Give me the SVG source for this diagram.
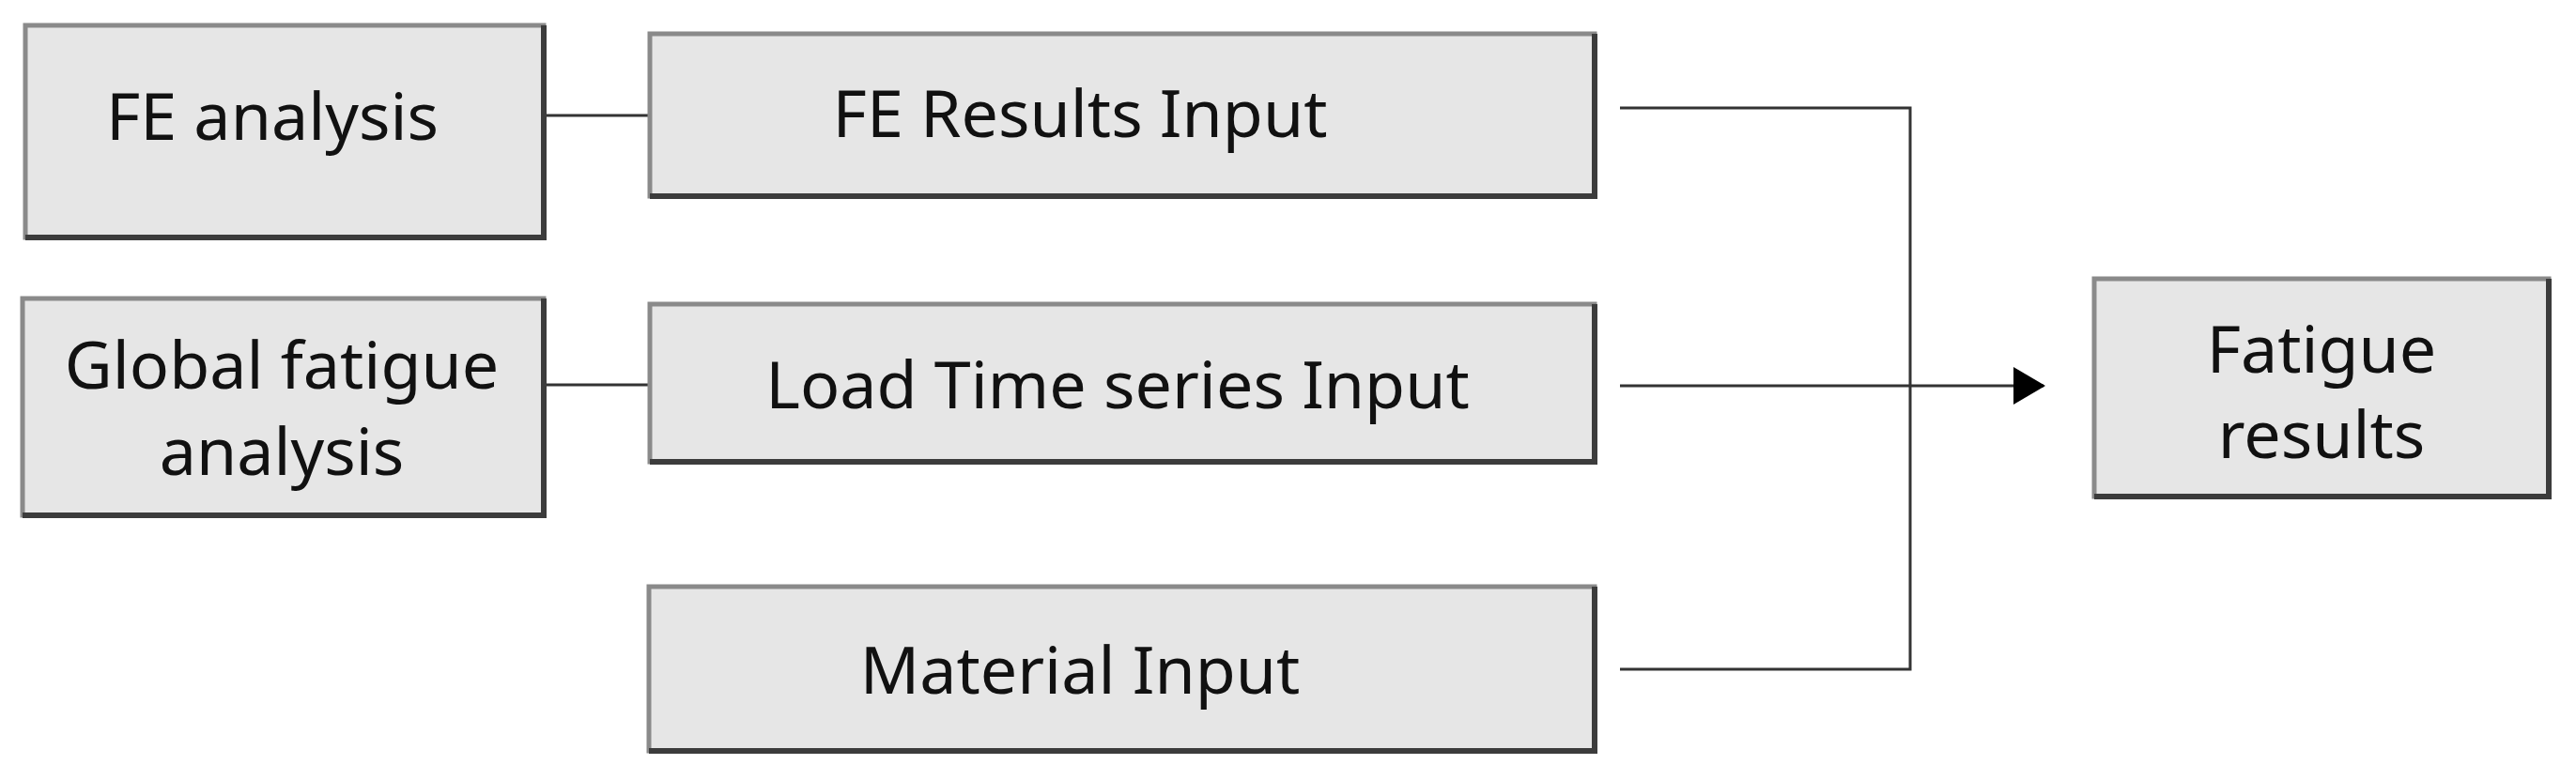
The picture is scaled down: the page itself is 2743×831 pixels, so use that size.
<svg xmlns="http://www.w3.org/2000/svg" width="2743" height="831" viewBox="0 0 2743 831">
<style>
.box{fill:#e6e6e6;stroke:#8a8a8a;stroke-width:5}
.edge{fill:none;stroke:#3c3c3c;stroke-width:6}
.t{font-family:"Noto Sans","Open Sans",sans-serif;font-size:70px;fill:#111;text-anchor:middle;dominant-baseline:central}
.c{fill:none;stroke:#333;stroke-width:3}
</style>
<defs>
<marker id="arr" markerWidth="10" markerHeight="10" refX="9" refY="5" orient="auto" markerUnits="userSpaceOnUse" viewBox="0 0 10 10">
<path d="M0,0 L10,5 L0,10 z" fill="#000"/>
</marker>
</defs>
<rect width="2743" height="831" fill="#fff"/>
<g id="connectors">
<line class="c" x1="579" y1="123" x2="692" y2="123"/>
<line class="c" x1="579" y1="410" x2="692" y2="410"/>
<polyline class="c" points="1725,115 2034,115 2034,713 1725,713"/>
<line class="c" x1="1725" y1="411" x2="2176" y2="411"/>
<path d="M2144,391 L2178,411 L2144,431 z" fill="#000"/>
</g>
<g id="fe-analysis">
<rect class="box" x="27" y="27" width="552" height="226"/>
<path class="edge" d="M579,27 V253 H27"/>
<text class="t" x="290" y="122">FE analysis</text>
</g>
<g id="global-fatigue">
<rect class="box" x="24" y="318" width="555" height="231"/>
<path class="edge" d="M579,318 V549 H24"/>
<text class="t" x="300" y="387">Global fatigue</text>
<text class="t" x="300" y="479">analysis</text>
</g>
<g id="fe-results-input">
<rect class="box" x="692" y="36" width="1006" height="173"/>
<path class="edge" d="M1698,36 V209 H692"/>
<text class="t" x="1150" y="119">FE Results Input</text>
</g>
<g id="load-time-series">
<rect class="box" x="692" y="324" width="1006" height="168"/>
<path class="edge" d="M1698,324 V492 H692"/>
<text class="t" x="1190" y="408">Load Time series Input</text>
</g>
<g id="material-input">
<rect class="box" x="691" y="625" width="1007" height="175"/>
<path class="edge" d="M1698,625 V800 H691"/>
<text class="t" x="1150" y="712">Material Input</text>
</g>
<g id="fatigue-results">
<rect class="box" x="2230" y="297" width="484" height="232"/>
<path class="edge" d="M2714,297 V529 H2230"/>
<text class="t" x="2472" y="370">Fatigue</text>
<text class="t" x="2472" y="461">results</text>
</g>
</svg>
